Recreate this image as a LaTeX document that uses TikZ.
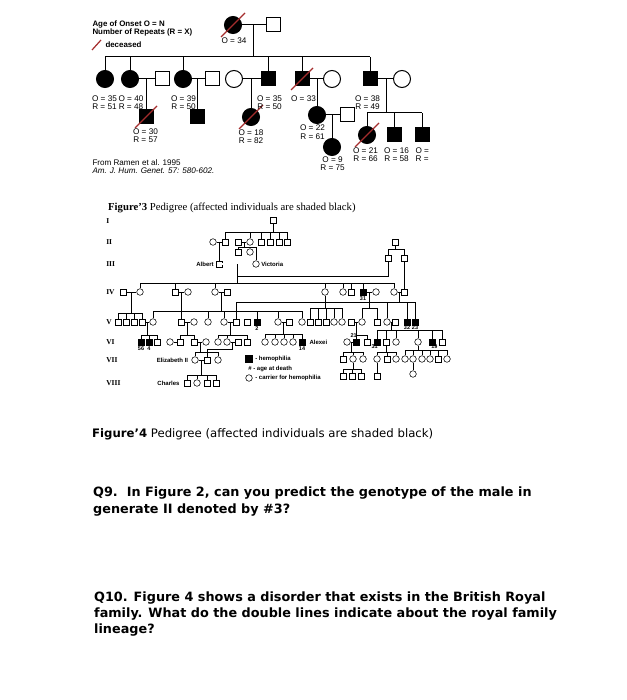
\documentclass[tikz,border=0pt]{standalone}
\usepackage{fontspec}
\setmainfont{Liberation Serif}
\setsansfont{Liberation Sans}
\newfontfamily\qfont{DejaVu Sans}
\usetikzlibrary{calc}

\definecolor{deadred}{RGB}{165,45,45}

\tikzset{
  % figure 2 symbols
  Sq/.style={draw, rectangle, minimum size=14pt, inner sep=0pt, fill=white},
  Ci/.style={draw, circle, minimum size=17pt, inner sep=0pt, fill=white},
  FSq/.style={Sq, fill=black},
  FCi/.style={Ci, fill=black},
  lab/.style={font=\sffamily\fontsize{8.2}{8.5}\selectfont, align=center, inner sep=0pt, anchor=north},
  keytext/.style={anchor=west, inner sep=0pt, font=\sffamily\bfseries\fontsize{7.9}{8}\selectfont},
  % figure 3 symbols
  sq/.style={draw, rectangle, minimum size=6pt, inner sep=0pt, fill=white},
  ci/.style={draw, circle, minimum size=6.6pt, inner sep=0pt, fill=white},
  fsq/.style={sq, fill=black},
  car/.style={ci, path picture={\fill (path picture bounding box.center) circle (0.9pt);}},
  num/.style={font=\sffamily\bfseries\fontsize{5.5}{6}\selectfont, inner sep=0pt},
  gen/.style={font=\bfseries\fontsize{7.5}{8}\selectfont, anchor=west, inner sep=0pt},
  pname/.style={font=\sffamily\bfseries\fontsize{6}{7}\selectfont, inner sep=0pt},
  qline/.style={font=\qfont\bfseries\fontsize{12.8}{14}\selectfont, anchor=base west, inner sep=0pt},
}

% parent point, line y, first kid, last kid, all kids
\newcommand{\sibs}[5]{%
  \draw (#1) -- (#1 |- 0,#2);
  \draw (#3.north |- 0,#2) -- (#4.north |- 0,#2);
  \foreach \k in {#5} {\draw (\k.north) -- (\k.north |- 0,#2);}
}
\newcommand{\dead}[2]{\draw[deadred, line width=1.2pt] ($(#1)+(-#2,#2)$) -- ($(#1)+(#2,-#2)$);}

\begin{document}
\begin{tikzpicture}[x=1pt,y=-1pt]
\fill[white] (0,0) rectangle (626,700);
\useasboundingbox (0,0) rectangle (626,700);

%% Figure 2: onset / repeats
\begin{scope}[line width=1pt]
  \node[keytext] (key1) at (92,24) {Age of Onset O = N};
  \node[keytext] (key2) at (92,32) {Number of Repeats (R = X)};
  \coordinate (ks1) at (92,50);
  \coordinate (ks2) at (101,40);
  \draw[deadred, line width=1.2pt] (ks1) -- (ks2);
  \node[keytext] (key3) at (105,45) {deceased};

  \node[FCi] (g1) at (233,25) {};
  \node[Sq] (g1s) at (273,25) {};
  \draw (g1) -- (g1s);
  \coordinate (t1) at ($(g1)!.5!(g1s)$);
  \node[lab] (lg1) at (234,37.5) {O = 34};

  \node[FCi] (a1) at (105,79) {};
  \node[FCi] (a2) at (130,79) {};
  \node[Sq]  (a2s) at (162,79) {};
  \node[FCi] (a3) at (183,79) {};
  \node[Sq]  (a3s) at (212,79) {};
  \node[Ci]  (a4w) at (234,79) {};
  \node[FSq] (a4) at (268,79) {};
  \node[FSq] (a5) at (302,79) {};
  \node[Ci]  (a5w) at (332,79) {};
  \node[FSq] (a6) at (370,79) {};
  \node[Ci]  (a6w) at (402,79) {};
  \sibs{t1}{57}{a1}{a6}{a1,a2,a3,a4,a5,a6}

  \draw (a2) -- (a2s);
  \draw (a3) -- (a3s);
  \draw (a4w) -- (a4);
  \draw (a5) -- (a5w);
  \draw (a6) -- (a6w);
  \coordinate (t2) at ($(a2)!.5!(a2s)$);
  \coordinate (t3) at ($(a3)!.5!(a3s)$);
  \coordinate (t4) at ($(a4w)!.5!(a4)$);
  \coordinate (t5) at ($(a5)!.5!(a5w)$);
  \coordinate (t7) at ($(a6)!.5!(a6w)$);

  \node[FSq] (a2k) at (146,117) {};
  \node[FSq] (a3k) at (197.5,117) {};
  \node[FCi] (a4k) at (251,117) {};
  \node[FCi] (a5k) at (317,115) {};
  \node[Sq]  (a5ks) at (347,115) {};
  \node[FCi] (a5kk) at (332,147) {};
  \draw (t2) -- (a2k);
  \draw (t3) -- (a3k);
  \draw (t4) -- (a4k);
  \draw (t5) -- (a5k);
  \draw (a5k) -- (a5ks);
  \coordinate (t6) at ($(a5k)!.5!(a5ks)$);
  \draw (t6) -- (a5kk);

  \node[FCi] (a6k1) at (367,135) {};
  \node[FSq] (a6k2) at (394,135) {};
  \node[FSq] (a6k3) at (422,135) {};
  \sibs{t7}{113}{a6k1}{a6k3}{a6k1,a6k2,a6k3}

  \dead{g1}{12}
  \dead{a2k}{11}
  \dead{a4k}{12}
  \dead{a5}{11}
  \dead{a6k1}{12}

  \node[lab] (la1) at (104.5,95) {O = 35\\R = 51};
  \node[lab] (la2) at (131,95) {O = 40\\R = 48};
  \node[lab] (la3) at (183.5,95) {O = 39\\R = 50};
  \node[lab] (la4) at (269.5,95) {O = 35\\R = 50};
  \node[lab] (la5) at (303.5,95) {O = 33};
  \node[lab] (la6) at (367.5,95) {O = 38\\R = 49};
  \node[lab] (la2k) at (145.5,128) {O = 30\\R = 57};
  \node[lab] (la4k) at (251,129) {O = 18\\R = 82};
  \node[lab] (la5k) at (312.5,124.5) {O = 22\\R = 61};
  \node[lab] (la5kk) at (332.5,156) {O = 9\\R = 75};
  \node[lab] (lk1) at (365.5,147) {O = 21\\R = 66};
  \node[lab] (lk2) at (396.5,147) {O = 16\\R = 58};
  \node[lab, anchor=north west] (lk3) at (415,147) {O =\\R =};

  \node[anchor=west, inner sep=0pt, font=\sffamily\fontsize{8.1}{8}\selectfont] (src1) at (92,163) {From Ramen et al. 1995};
  \node[anchor=west, inner sep=0pt, font=\sffamily\itshape\fontsize{8.1}{8}\selectfont] (src2) at (92,171) {Am. J. Hum. Genet. 57: 580-602.};
\end{scope}

\node[anchor=base west, inner sep=0pt, font=\fontsize{10.7}{12}\selectfont] (cap3) at (108,211) {\textbf{Figure’3} Pedigree (affected individuals are shaded black)};

%% Figure 3: royal pedigree
\begin{scope}[line width=0.55pt]
  \node[gen] (gI) at (106,221) {I};
  \node[gen] (gII) at (106,242) {II};
  \node[gen] (gIII) at (106,264) {III};
  \node[gen] (gIV) at (106,292) {IV};
  \node[gen] (gV) at (106,322) {V};
  \node[gen] (gVI) at (106,342) {VI};
  \node[gen] (gVII) at (106,360) {VII};
  \node[gen] (gVIII) at (106,383) {VIII};

  % I - III
  \node[sq] (i1) at (273,220) {};
  \foreach \n/\x/\s in {ii1/213/ci, ii2/225/sq, ii3/238/sq, ii4/250/ci, ii5/261/sq, ii6/270/sq, ii7/279/sq, ii8/287/sq}
    \node[\s] (\n) at (\x,242) {};
  \node[sq] (ii9) at (238,252) {};
  \node[ci] (ii10) at (250,252) {};
  \node[sq] (iir) at (395,242) {};
  \node[sq] (alb) at (219,264) {};
  \node[car] (vic) at (256,264) {};
  \node[sq] (iii1) at (388,258) {};
  \node[sq] (iii2) at (404,258) {};
  \node[pname, anchor=east] (albt) at (214,264) {Albert};
  \node[pname, anchor=west] (vict) at (261,264) {Victoria};

  \sibs{i1.south}{232}{ii2}{ii8}{ii2,ii4,ii5,ii6,ii7,ii8}
  \draw (ii1) -- (ii2);
  \coordinate (m1) at ($(ii1)!.5!(ii2)$);
  \draw (m1) -- (alb);
  \draw (ii3) -- (ii4);
  \coordinate (m2) at ($(ii3)!.5!(ii4)$);
  \sibs{m2}{247.5}{ii9}{vic}{ii9,ii10,vic}
  \sibs{iir.south}{249}{iii1}{iii2}{iii1,iii2}
  \draw[double, double distance=1.5pt] (alb) -- (vic);
  \coordinate (m3) at ($(alb)!.5!(vic)$);

  % IV
  \foreach \n/\x/\s in {iv1/123/sq, iv2/140/ci, iv3/175/sq, iv4/188/ci, iv5/215/car, iv6/227/sq, iv7/325/ci, iv8/343/ci, iv9/351/sq, iv10/363/fsq, iv11/376/ci, iv12/394/car, iv13/404/sq}
    \node[\s] (\n) at (\x,292) {};
  \sibs{m3}{283}{iv2}{iv12}{iv2,iv3,iv5,iv7,iv8,iv9,iv10,iv12}
  \draw (iii1.south) |- (m3 |- 0,276);
  \draw (iii2) -- (iv13);
  \draw (iv1) -- (iv2);
  \draw (iv3) -- (iv4);
  \draw (iv5) -- (iv6);
  \draw (iv10) -- (iv11);
  \draw (iv12) -- (iv13);
  \coordinate (m4) at ($(iv1)!.5!(iv2)$);
  \coordinate (m5) at ($(iv3)!.5!(iv4)$);
  \coordinate (m6) at ($(iv5)!.5!(iv6)$);
  \coordinate (m7) at ($(iv10)!.5!(iv11)$);
  \coordinate (m8) at ($(iv12)!.5!(iv13)$);
  \node[num, below=1pt] (n31a) at (iv10.south) {31};

  % V
  \foreach \n/\x/\s in {v1/118/sq, v2/126/sq, v3/134/sq, v4/142/sq, v5/153/car, v6/181.5/sq, v7/194/ci, v8/208/ci, v9/224/ci, v10/236/sq, v11/247/sq, v12/257/fsq, v13/278/car, v14/289/sq, v15/302/ci, v16/310/sq, v17/318/sq, v18/326/sq, v19/334/ci, v20/342/ci, v21/351/sq, v22/362/car, v23/377/sq, v24/387/car, v25/395/sq, v26/407/fsq, v27/415/fsq}
    \node[\s] (\n) at (\x,322) {};
  \sibs{m4}{313}{v1}{v4}{v1,v2,v3,v4}
  \draw (m5) -- (v6);
  \sibs{m6}{311}{v5}{v15}{v5,v8,v9,v12,v13,v15}
  \sibs{iv7.south}{308}{v16}{v20}{v16,v17,v18,v19,v20}
  \sibs{m7}{308}{v22}{v23}{v22,v23}
  \sibs{m8}{302}{v10}{v27}{v10,v24,v26,v27}
  \draw (v4) -- (v5);
  \draw (v6) -- (v7);
  \draw (v9) -- (v10);
  \draw (v13) -- (v14);
  \draw (v21) -- (v22);
  \draw (v24) -- (v25);
  \coordinate (m9) at ($(v4)!.5!(v5)$);
  \coordinate (m10) at ($(v6)!.5!(v7)$);
  \coordinate (m11) at ($(v9)!.5!(v10)$);
  \coordinate (m12) at ($(v13)!.5!(v14)$);
  \coordinate (m13) at ($(v21)!.5!(v22)$);
  \coordinate (m14) at ($(v24)!.5!(v25)$);
  \node[num, below=1pt] (n2) at (v12.south) {2};
  \node[num, below=0.5pt] (n32) at (v26.south) {32};
  \node[num, below=0.5pt] (n23) at (v27.south) {23};

  % VI
  \foreach \n/\x/\s in {vi1/141/fsq, vi2/149/fsq, vi3/157/sq, vi4/170/ci, vi5/180/sq, vi6/194/sq, vi7/206/ci, vi8/218/ci, vi9/227/ci, vi10/238/sq, vi11/247/sq, vi12/265/ci, vi13/275/ci, vi14/284/ci, vi15/293/ci, vi16/302/fsq, vi17/347/ci, vi18/356/fsq, vi19/367/sq, vi20/377/fsq, vi21/386/sq, vi22/396/ci, vi23/418/ci, vi24/432/fsq, vi25/442/sq}
    \node[\s] (\n) at (\x,342) {};
  \sibs{m9}{335}{vi1}{vi3}{vi1,vi2,vi3}
  \sibs{m10}{335}{vi5}{vi6}{vi5,vi6}
  \sibs{m11}{335}{vi8}{vi11}{vi8,vi9,vi11}
  \sibs{m12}{334}{vi12}{vi16}{vi12,vi13,vi14,vi15,vi16}
  \sibs{m13}{335}{vi18}{vi19}{vi18,vi19}
  \sibs{m14}{330}{vi20}{vi25}{vi20,vi21,vi22,vi23,vi24,vi25}
  \draw (vi4) -- (vi5);
  \draw (vi6) -- (vi7);
  \draw (vi9) -- (vi10);
  \draw (vi17) -- (vi18);
  \coordinate (m15) at ($(vi6)!.5!(vi7)$);
  \coordinate (m16) at ($(vi9)!.5!(vi10)$);
  \coordinate (m17) at ($(vi17)!.5!(vi18)$);
  \node[num, below=1pt] (n56) at (vi1.south) {56};
  \node[num, below=1pt] (n4) at (vi2.south) {4};
  \node[num, below=1pt] (n14) at (vi16.south) {14};
  \node[num, anchor=south east] (n21) at ($(vi18.north)+(1,-0.5)$) {21};
  \node[num, anchor=north east] (n31b) at ($(vi20.south)+(1,-1)$) {31};
  \node[num, anchor=north west] (n19) at ($(vi24.south)+(-1,-1)$) {19};
  \node[pname, anchor=west] (alx) at ($(vi16.east)+(4,0)$) {Alexei};

  % VII
  \foreach \n/\x/\s in {vii1/195/ci, vii2/207/sq, vii3/218/ci}
    \node[\s] (\n) at (\x,360) {};
  \foreach \n/\x/\s in {vii4/343/sq, vii5/353/ci, vii6/363/ci, vii7/377/ci, vii8/387/sq, vii9/396/ci, vii10/405/ci, vii11/413/ci, vii12/422/ci, vii13/430/ci, vii14/438/sq, vii15/447/ci}
    \node[\s] (\n) at (\x,359) {};
  \sibs{m15}{352}{vii1}{vii3}{vii1,vii3}
  \draw (vii2.north) |- (m16 |- 0,349) -- (m16);
  \sibs{m17}{352}{vii4}{vii6}{vii4,vii5,vii6}
  \sibs{vi21.south}{352}{vii7}{vii9}{vii7,vii8,vii9}
  \sibs{vi23.south}{350}{vii10}{vii15}{vii10,vii11,vii12,vii13,vii14,vii15}
  \draw (vii1) -- (vii2);
  \coordinate (m18) at ($(vii1)!.5!(vii2)$);
  \node[pname, anchor=east] (eliz) at ($(vii1.west)+(-3,0)$) {Elizabeth II};

  % VIII
  \foreach \n/\x/\s in {viii1/187/sq, viii2/197/ci, viii3/207/sq, viii4/216/sq}
    \node[\s] (\n) at (\x,383) {};
  \foreach \n/\x/\s in {viii5/343/sq, viii6/352/sq, viii7/361/sq, viii8/377/sq}
    \node[\s] (\n) at (\x,376) {};
  \node[ci] (viii9) at (413,374) {};
  \sibs{m18}{375}{viii1}{viii4}{viii1,viii2,viii3,viii4}
  \sibs{vii5.south}{369}{viii5}{viii7}{viii5,viii6,viii7}
  \draw (vii7) -- (viii8);
  \draw (vii11) -- (viii9);
  \node[pname, anchor=east] (chas) at ($(viii1.west)+(-4,0)$) {Charles};

  % key
  \node[fsq, minimum size=7pt] (k1) at (249,359) {};
  \node[pname, anchor=west] (k1t) at (255,359) {- hemophilia};
  \node[pname, anchor=west] (k2t) at (248,369) {\# - age at death};
  \node[car] (k3) at (249,378) {};
  \node[pname, anchor=west] (k3t) at (255,378) {- carrier for hemophilia};
\end{scope}

%% questions
\node[anchor=base west, inner sep=0pt, font=\qfont\fontsize{11.7}{14}\selectfont] (cap4) at (92,437) {\textbf{Figure’4} Pedigree (affected individuals are shaded black)};
\node[qline] (q9a) at (93,496) {Q9.\ \ In Figure 2, can you predict the genotype of the male in};
\node[qline] (q9b) at (93,513) {generate II denoted by \#3?};
\node[qline] (q10a) at (94,601) {Q10. Figure 4 shows a disorder that exists in the British Royal};
\node[qline] (q10b) at (94,617) {family. What do the double lines indicate about the royal family};
\node[qline] (q10c) at (94,633) {lineage?};
\end{tikzpicture}
\end{document}
